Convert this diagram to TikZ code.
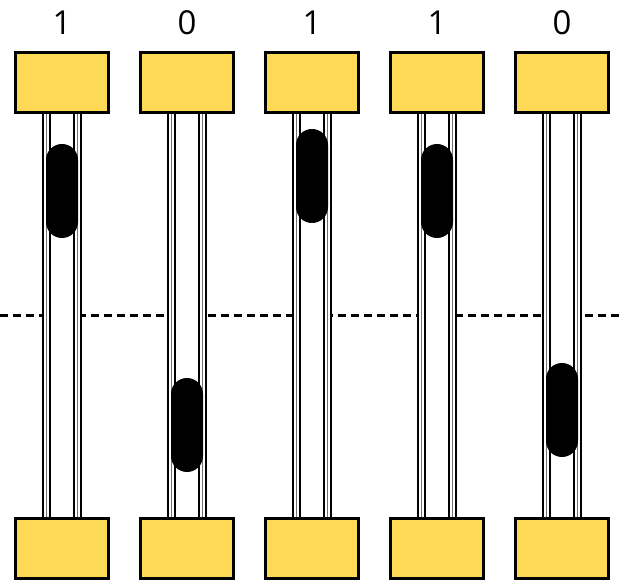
\documentclass[tikz,border=0pt]{standalone}
\usepackage{fontspec}
\setmainfont{Open Sans}
\usetikzlibrary{shapes.misc}
\definecolor{padyellow}{RGB}{253,217,86}

\tikzset{
	pad/.style={draw=black, line width=3pt, fill=padyellow, inner sep=0pt,
		minimum width=93pt, minimum height=60pt},
	bead/.style={rounded rectangle, rounded rectangle arc length=180, rotate=90,
		fill=black, inner sep=0pt, minimum width=94pt, minimum height=32pt},
	bit/.style={font=\fontsize{33}{38}\selectfont, inner sep=0pt},
	rail/.style={line width=1.6pt, black},
	railmid/.style={line width=1.1pt, black!55},
}

\begin{document}
\begin{tikzpicture}[x=1pt, y=-1pt]
	\useasboundingbox (0,0) rectangle (624,585);

	% threshold
	\draw[line width=3pt, dash pattern=on 8pt off 5pt] (0,316) -- (624,316);

	\foreach \c/\b/\y in {1/1/191, 2/0/425, 3/1/176, 4/1/191, 5/0/410} {
		\pgfmathsetmacro{\x}{62+125*(\c-1)}
		\node[pad] (t\c) at (\x,83) {};
		\node[pad] (b\c) at (\x,548.5) {};
		\node[bit] (l\c) at (\x,23) {\b};
		% tube
		\fill[white] ([xshift=-19pt]t\c.south) rectangle ([xshift=19pt]b\c.north);
		\foreach \s in {-15.3,15.3} {
			\draw[rail] ([xshift=\s pt-3.5pt]t\c.south) -- ([xshift=\s pt-3.5pt]b\c.north);
			\draw[railmid] ([xshift=\s pt]t\c.south) -- ([xshift=\s pt]b\c.north);
			\draw[rail] ([xshift=\s pt+3.5pt]t\c.south) -- ([xshift=\s pt+3.5pt]b\c.north);
		}
		\node[bead] (m\c) at (\x,\y) {};
	}
\end{tikzpicture}
\end{document}
